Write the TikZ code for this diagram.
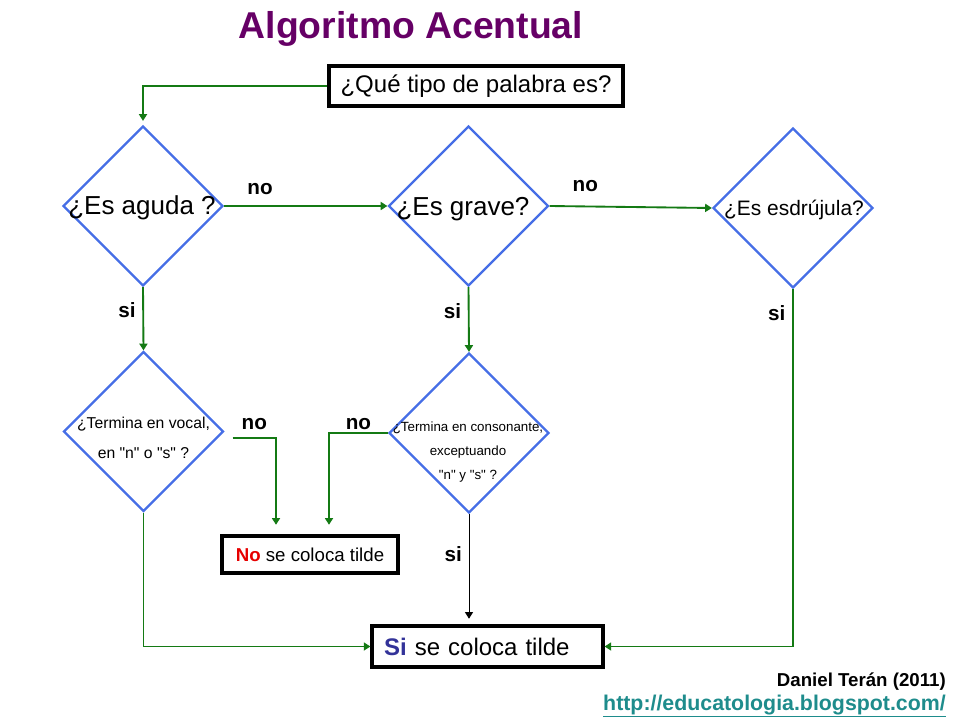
\documentclass[tikz,border=0pt]{standalone}
\usepackage{fontspec}
\setmainfont{Liberation Sans}[Ligatures=TeXOff]
\usetikzlibrary{positioning}
\usetikzlibrary{shapes}
\usetikzlibrary{arrows.meta}
\definecolor{titlepurple}{RGB}{102,0,102}
\definecolor{diamblue}{RGB}{70,110,230}
\definecolor{flowgreen}{RGB}{20,122,20}
\definecolor{nored}{RGB}{230,0,0}
\definecolor{siblue}{RGB}{51,51,153}
\definecolor{urlteal}{RGB}{30,140,140}

\begin{document}
\begin{tikzpicture}[x=0.75pt, y=-0.75pt,
  decision/.style={draw=diamblue, line width=1.7pt, diamond, minimum width=120pt, minimum height=120pt, inner sep=0pt},
  block/.style={draw, line width=2.6pt, rectangle},
  flow/.style={draw=flowgreen, line width=1.4pt, -{Triangle[length=5pt,width=6pt]}},
  lbl/.style={font=\fontsize{15.5}{18}\selectfont\bfseries, inner sep=2pt}]
\useasboundingbox (0,0) rectangle (960,720);
\node[font=\fontsize{28}{32}\selectfont\bfseries, text=titlepurple] (title) at (411,29) {Algoritmo Acentual};
\node[block, minimum width=220.5pt, minimum height=30pt, font=\fontsize{18}{21}\selectfont] (tipo) at (476,86) {¿Qué tipo de palabra es?};

\node[decision] (aguda) at (143,206) {};
\node[font=\fontsize{19.5}{23}\selectfont] (agudatxt) at (142,208) {¿Es aguda ?};
\node[decision] (grave) at (468.5,206) {};
\node[font=\fontsize{19.5}{23}\selectfont] (gravetxt) at (463,209) {¿Es grave?};
\node[decision] (esdr) at (793,208) {};
\node[font=\fontsize{15.7}{19}\selectfont] (esdrtxt) at (794,210) {¿Es esdrújula?};
\node[decision] (vocal) at (143.5,431.5) {};
\node[font=\fontsize{11.8}{22.5}\selectfont, align=center] (vocaltxt) at (143.5,438) {¿Termina en vocal,\\ en "n" o "s" ?};
\node[decision] (conso) at (469,433) {};
\node[font=\fontsize{10}{18}\selectfont, align=center] (consotxt) at (468,452) {¿Termina en consonante,\\ exceptuando\\ "n" y "s" ?};

\node[block, minimum width=132pt, minimum height=28pt, font=\fontsize{14}{17}\selectfont] (nobox) at (310,554.5) {\textcolor{nored}{\bfseries No} se coloca tilde};
\node[block, minimum width=173pt, minimum height=31pt, text width=155pt, inner xsep=9pt, align=left, font=\fontsize{18}{21}\selectfont] (sibox) at (487.5,646.5) {\textcolor{siblue}{\bfseries Si} se coloca tilde};

\node[anchor=east, inner sep=0pt, font=\fontsize{14}{17}\selectfont\bfseries] (autor) at (946,682) {Daniel Terán (2011)};
\node[anchor=east, inner sep=0pt, font=\fontsize{16}{19}\selectfont\bfseries, text=urlteal] (url) at (946,706) {\underline{http://educatologia.blogspot.com/}};

\draw[flow, shorten >=3pt] (tipo.west) -| (aguda.north);
\draw[flow] (aguda.east) -- (grave.west) node[lbl, pos=0.22, above=6pt] {no};
\draw[flow] (grave.east) -- (esdr.west) node[lbl, pos=0.22, above=8pt] {no};
\draw[flow] (aguda.south) -- (vocal.north) node[lbl, pos=0.37, left=3pt] {si};
\draw[flow] (grave.south) -- (conso.north) node[lbl, pos=0.37, left=3pt] {si};
\draw[flow] (esdr.south) |- (sibox.east) node[lbl, pos=0.033, left=3pt] {si};
\draw[flow] (vocal.south) |- (sibox.west);
\coordinate (vocalout) at ([shift={(6pt,-5pt)}]vocal.east);
\draw[flow, shorten >=7pt] (vocalout) -| ([xshift=-25.5pt]nobox.north) node[lbl, pos=0.25, above=3.5pt] {no};
\draw[flow, shorten >=7pt] (conso.west) -| ([xshift=14.25pt]nobox.north) node[lbl, pos=0.25, above] {no};
\draw[line width=0.75pt, -{Triangle[length=5pt,width=6pt]}, shorten >=4pt] (conso.south) -- (conso.south |- sibox.north) node[lbl, pos=0.36, left=3pt] {si};
\end{tikzpicture}
\end{document}
